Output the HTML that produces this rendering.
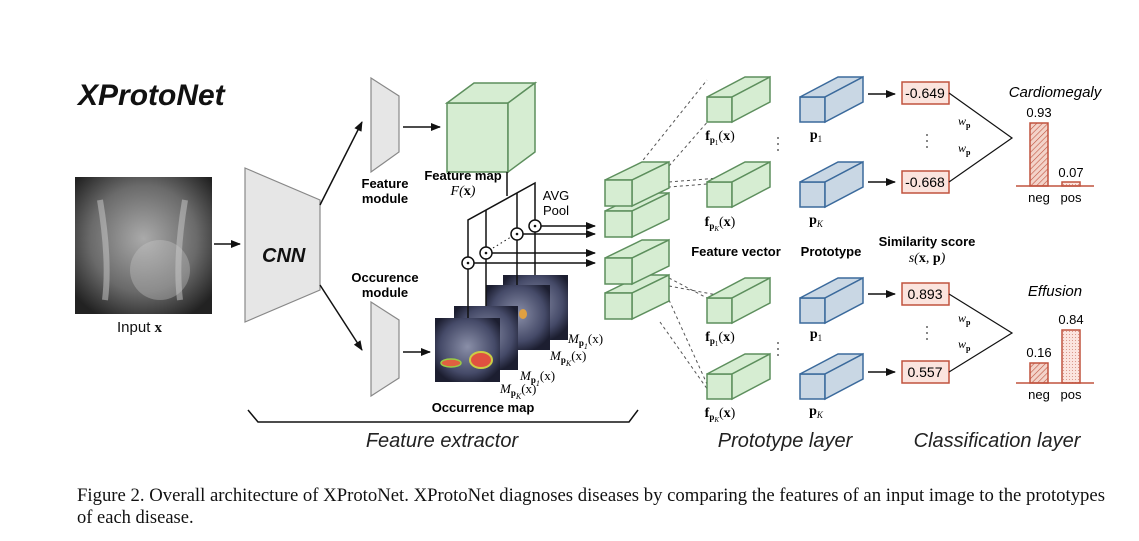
<!DOCTYPE html>
<html><head><meta charset="utf-8"><style>
body{margin:0;background:#fff;}
svg{display:block;font-family:"Liberation Sans",sans-serif;}
.s{font-family:"Liberation Serif",serif;}
</style></head><body>
<svg width="1139" height="541" viewBox="0 0 1139 541">
<defs>
<marker id="a" markerWidth="10" markerHeight="8" refX="9" refY="4" orient="auto" markerUnits="userSpaceOnUse"><path d="M0,0 L10,4 L0,8 z" fill="#111"/></marker>
<pattern id="hat" width="4" height="4" patternUnits="userSpaceOnUse" patternTransform="rotate(45)"><rect width="4" height="4" fill="#f3d3c9"/><line x1="0" y1="0" x2="0" y2="4" stroke="#c0533e" stroke-width="1.2"/></pattern>
<pattern id="dot" width="3" height="3" patternUnits="userSpaceOnUse"><rect width="3" height="3" fill="#fbe4de"/><circle cx="1.5" cy="1.5" r="0.5" fill="#d08070"/></pattern>
<radialGradient id="xr" cx="50%" cy="45%" r="65%"><stop offset="0" stop-color="#aaa"/><stop offset="0.6" stop-color="#6a6a6a"/><stop offset="1" stop-color="#222"/></radialGradient>
<radialGradient id="om" cx="50%" cy="45%" r="60%"><stop offset="0" stop-color="#8a8fa8"/><stop offset="0.7" stop-color="#454a68"/><stop offset="1" stop-color="#1c1e30"/></radialGradient>
<g id="gc"><path d="M0,0 h25 v25 h-25 z" fill="#d6edd2" stroke="#5d8f5d" stroke-width="1.5"/><path d="M0,0 l38,-20 h25 l-38,20 z" fill="#d6edd2" stroke="#5d8f5d" stroke-width="1.5"/><path d="M25,0 l38,-20 v25 l-38,20 z" fill="#d6edd2" stroke="#5d8f5d" stroke-width="1.5"/></g>
<g id="bc"><path d="M0,0 h25 v25 h-25 z" fill="#c9d7e4" stroke="#3b6a9c" stroke-width="1.5"/><path d="M0,0 l38,-20 h25 l-38,20 z" fill="#c9d7e4" stroke="#3b6a9c" stroke-width="1.5"/><path d="M25,0 l38,-20 v25 l-38,20 z" fill="#c9d7e4" stroke="#3b6a9c" stroke-width="1.5"/></g>
<g id="smc"><path d="M0,0 h27 l37,-18 h-27 z" fill="#d6edd2" stroke="#5d8f5d" stroke-width="1.5"/><path d="M27,0 l37,-18 v26 l-37,18 z" fill="#d6edd2" stroke="#5d8f5d" stroke-width="1.5"/><path d="M0,0 h27 v26 h-27 z" fill="#d6edd2" stroke="#5d8f5d" stroke-width="1.5"/></g>
</defs>

<text x="78" y="105" font-size="30" font-weight="bold" font-style="italic" fill="#111">XProtoNet</text>

<rect x="75" y="177" width="137" height="137" fill="url(#xr)"/>
<path d="M100,200 q10,60 5,100 M185,200 q-10,60 -5,100" stroke="#ccc" stroke-width="6" fill="none" opacity="0.5"/>
<ellipse cx="160" cy="270" rx="30" ry="30" fill="#ccc" opacity="0.35"/>
<text x="117" y="332" font-size="15" fill="#111">Input <tspan class="s" font-weight="bold">x</tspan></text>
<line x1="214" y1="244" x2="240" y2="244" stroke="#111" stroke-width="1.5" marker-end="url(#a)"/>

<path d="M245,168 L320,200 L320,290 L245,322 z" fill="#e6e6e6" stroke="#888" stroke-width="1.2"/>
<text x="262" y="262" font-size="20" font-weight="bold" font-style="italic" fill="#111">CNN</text>
<line x1="320" y1="205" x2="362" y2="122" stroke="#111" stroke-width="1.5" marker-end="url(#a)"/>
<line x1="320" y1="285" x2="362" y2="350" stroke="#111" stroke-width="1.5" marker-end="url(#a)"/>

<path d="M371,78 L399,96 L399,152 L371,172 z" fill="#e6e6e6" stroke="#888" stroke-width="1.2"/>
<text x="385" y="188" font-size="13" font-weight="bold" text-anchor="middle">Feature</text>
<text x="385" y="203" font-size="13" font-weight="bold" text-anchor="middle">module</text>
<path d="M371,302 L399,320 L399,378 L371,396 z" fill="#e6e6e6" stroke="#888" stroke-width="1.2"/>
<text x="385" y="282" font-size="13" font-weight="bold" text-anchor="middle">Occurence</text>
<text x="385" y="297" font-size="13" font-weight="bold" text-anchor="middle">module</text>
<line x1="403" y1="127" x2="440" y2="127" stroke="#111" stroke-width="1.5" marker-end="url(#a)"/>
<line x1="403" y1="352" x2="430" y2="352" stroke="#111" stroke-width="1.5" marker-end="url(#a)"/>

<path d="M447,103 h61 v69 h-61 z" fill="#d6edd2" stroke="#5d8f5d" stroke-width="1.5"/>
<path d="M447,103 l27,-20 h61 l-27,20 z" fill="#d6edd2" stroke="#5d8f5d" stroke-width="1.5"/>
<path d="M508,103 l27,-20 v69 l-27,20 z" fill="#d6edd2" stroke="#5d8f5d" stroke-width="1.5"/>
<text x="463" y="180" font-size="13" font-weight="bold" text-anchor="middle">Feature map</text>
<text x="463" y="195" font-size="14" class="s" font-style="italic" text-anchor="middle">F(<tspan font-weight="bold" font-style="normal">x</tspan>)</text>

<g stroke="none">
<rect x="503" y="275" width="65" height="65" fill="url(#om)"/>
<rect x="486" y="285" width="64" height="65" fill="url(#om)"/>
<rect x="454" y="306" width="64" height="64" fill="url(#om)"/>
<rect x="435" y="318" width="65" height="64" fill="url(#om)"/>
<ellipse cx="523" cy="314" rx="4" ry="5" fill="#e0a040"/>
<ellipse cx="451" cy="363" rx="10" ry="4" fill="#e06040" stroke="#9c4" stroke-width="1.5"/>
<ellipse cx="481" cy="360" rx="11" ry="8" fill="#e05040" stroke="#cc4" stroke-width="2"/>
</g>
<g class="s" font-size="13" font-style="italic">
<text x="568" y="343">M<tspan font-size="9" dy="3" font-weight="bold" font-style="normal">p</tspan><tspan font-size="8" dy="3">1</tspan><tspan dy="-6" font-style="normal">(x)</tspan></text>
<text x="550" y="360">M<tspan font-size="9" dy="3" font-weight="bold" font-style="normal">p</tspan><tspan font-size="8" dy="3">K</tspan><tspan dy="-6" font-style="normal">(x)</tspan></text>
<text x="520" y="380">M<tspan font-size="9" dy="3" font-weight="bold" font-style="normal">p</tspan><tspan font-size="8" dy="3">1</tspan><tspan dy="-6" font-style="normal">(x)</tspan></text>
<text x="500" y="393">M<tspan font-size="9" dy="3" font-weight="bold" font-style="normal">p</tspan><tspan font-size="8" dy="3">K</tspan><tspan dy="-6" font-style="normal">(x)</tspan></text>
</g>
<text x="483" y="412" font-size="13" font-weight="bold" text-anchor="middle">Occurrence map</text>

<g stroke="#111" stroke-width="1.5" fill="none">
<line x1="507" y1="172" x2="507" y2="196"/>
<path d="M468,318 V220 L535,183 V275"/>
<line x1="486" y1="210" x2="486" y2="306"/>
<line x1="517" y1="193" x2="517" y2="285"/>
<line x1="474" y1="263" x2="595" y2="263" marker-end="url(#a)"/>
<line x1="492" y1="253" x2="595" y2="253" marker-end="url(#a)"/>
<line x1="523" y1="234" x2="595" y2="234" marker-end="url(#a)"/>
<line x1="541" y1="226" x2="595" y2="226" marker-end="url(#a)"/>
<line x1="493" y1="248" x2="511" y2="237" stroke-dasharray="1.5,3" stroke-width="1"/>
</g>
<g fill="#fff" stroke="#111" stroke-width="1.5">
<circle cx="468" cy="263" r="6"/><circle cx="486" cy="253" r="6"/><circle cx="517" cy="234" r="6"/><circle cx="535" cy="226" r="6"/>
</g>
<g fill="#111"><circle cx="468" cy="263" r="1.3"/><circle cx="486" cy="253" r="1.3"/><circle cx="517" cy="234" r="1.3"/><circle cx="535" cy="226" r="1.3"/></g>
<text x="556" y="200" font-size="13" text-anchor="middle">AVG</text>
<text x="556" y="215" font-size="13" text-anchor="middle">Pool</text>

<g stroke="#555" stroke-width="1" stroke-dasharray="3,3">
<line x1="632" y1="174" x2="707" y2="80"/><line x1="669" y1="166" x2="744" y2="80"/>
<line x1="632" y1="190" x2="707" y2="184"/><line x1="669" y1="182" x2="744" y2="176"/>
<line x1="669" y1="278" x2="707" y2="298"/><line x1="669" y1="286" x2="744" y2="300"/>
<line x1="669" y1="300" x2="707" y2="384"/><line x1="660" y1="322" x2="715" y2="400"/>
</g>
<line x1="643" y1="240" x2="643" y2="256" stroke="#333" stroke-dasharray="1.5,2.5"/>
<use href="#smc" x="605" y="293"/>
<use href="#smc" x="605" y="258"/>
<use href="#smc" x="605" y="211"/>
<use href="#smc" x="605" y="180"/>

<use href="#gc" x="707" y="97"/>
<use href="#gc" x="707" y="182"/>
<use href="#gc" x="707" y="298"/>
<use href="#gc" x="707" y="374"/>
<use href="#bc" x="800" y="97"/>
<use href="#bc" x="800" y="182"/>
<use href="#bc" x="800" y="298"/>
<use href="#bc" x="800" y="374"/>

<g class="s" font-size="14">
<text x="720" y="140" text-anchor="middle"><tspan font-weight="bold">f</tspan><tspan font-size="9" dy="3" font-weight="bold">p</tspan><tspan font-size="7" dy="2">1</tspan><tspan dy="-5">(</tspan><tspan font-weight="bold">x</tspan>)</text>
<text x="720" y="226" text-anchor="middle"><tspan font-weight="bold">f</tspan><tspan font-size="9" dy="3" font-weight="bold">p</tspan><tspan font-size="7" dy="2" font-style="italic">K</tspan><tspan dy="-5">(</tspan><tspan font-weight="bold">x</tspan>)</text>
<text x="720" y="341" text-anchor="middle"><tspan font-weight="bold">f</tspan><tspan font-size="9" dy="3" font-weight="bold">p</tspan><tspan font-size="7" dy="2">1</tspan><tspan dy="-5">(</tspan><tspan font-weight="bold">x</tspan>)</text>
<text x="720" y="417" text-anchor="middle"><tspan font-weight="bold">f</tspan><tspan font-size="9" dy="3" font-weight="bold">p</tspan><tspan font-size="7" dy="2" font-style="italic">K</tspan><tspan dy="-5">(</tspan><tspan font-weight="bold">x</tspan>)</text>
<text x="816" y="139" text-anchor="middle"><tspan font-weight="bold">p</tspan><tspan font-size="9" dy="3">1</tspan></text>
<text x="816" y="224" text-anchor="middle"><tspan font-weight="bold">p</tspan><tspan font-size="9" dy="3" font-style="italic">K</tspan></text>
<text x="816" y="338" text-anchor="middle"><tspan font-weight="bold">p</tspan><tspan font-size="9" dy="3">1</tspan></text>
<text x="816" y="415" text-anchor="middle"><tspan font-weight="bold">p</tspan><tspan font-size="9" dy="3" font-style="italic">K</tspan></text>
</g>
<g fill="#333"><circle cx="778" cy="138" r="0.9"/><circle cx="778" cy="144" r="0.9"/><circle cx="778" cy="150" r="0.9"/>
<circle cx="778" cy="343" r="0.9"/><circle cx="778" cy="349" r="0.9"/><circle cx="778" cy="355" r="0.9"/>
<circle cx="927" cy="135" r="0.9"/><circle cx="927" cy="141" r="0.9"/><circle cx="927" cy="147" r="0.9"/>
<circle cx="927" cy="327" r="0.9"/><circle cx="927" cy="333" r="0.9"/><circle cx="927" cy="339" r="0.9"/></g>
<text x="736" y="256" font-size="13" font-weight="bold" text-anchor="middle">Feature vector</text>
<text x="831" y="256" font-size="13" font-weight="bold" text-anchor="middle">Prototype</text>
<text x="927" y="246" font-size="13" font-weight="bold" text-anchor="middle">Similarity score</text>
<text x="927" y="262" font-size="14" class="s" font-style="italic" text-anchor="middle">s(<tspan font-weight="bold" font-style="normal">x</tspan>, <tspan font-weight="bold" font-style="normal">p</tspan>)</text>

<g stroke="#111" stroke-width="1.5">
<line x1="868" y1="94" x2="895" y2="94" marker-end="url(#a)"/>
<line x1="868" y1="182" x2="895" y2="182" marker-end="url(#a)"/>
<line x1="868" y1="294" x2="895" y2="294" marker-end="url(#a)"/>
<line x1="868" y1="372" x2="895" y2="372" marker-end="url(#a)"/>
</g>
<g fill="#fbe4de" stroke="#c0533e" stroke-width="1.5">
<rect x="902" y="82" width="47" height="22"/><rect x="902" y="171" width="47" height="22"/>
<rect x="902" y="283" width="47" height="22"/><rect x="902" y="361" width="47" height="22"/>
</g>
<g font-size="14" text-anchor="middle"><text x="925" y="98">-0.649</text><text x="925" y="187">-0.668</text><text x="925" y="299">0.893</text><text x="925" y="377">0.557</text></g>
<g stroke="#111" stroke-width="1.2" fill="none"><path d="M949,93 L1012,138 L949,182"/><path d="M949,294 L1012,333 L949,372"/></g>
<g class="s" font-size="12" font-style="italic"><text x="958" y="125">w<tspan font-size="8" font-weight="bold" font-style="normal" dy="3">p</tspan></text><text x="958" y="152">w<tspan font-size="8" font-weight="bold" font-style="normal" dy="3">p</tspan></text>
<text x="958" y="322">w<tspan font-size="8" font-weight="bold" font-style="normal" dy="3">p</tspan></text><text x="958" y="348">w<tspan font-size="8" font-weight="bold" font-style="normal" dy="3">p</tspan></text></g>

<text x="1055" y="97" font-size="15" font-style="italic" text-anchor="middle">Cardiomegaly</text>
<rect x="1030" y="123" width="18" height="63" fill="url(#hat)" stroke="#c0533e" stroke-width="1.5"/>
<rect x="1062" y="182" width="18" height="4" fill="url(#dot)" stroke="#c0533e" stroke-width="1.5"/>
<line x1="1016" y1="186" x2="1094" y2="186" stroke="#c0533e" stroke-width="1.5"/>
<text x="1039" y="117" font-size="13" text-anchor="middle">0.93</text><text x="1071" y="177" font-size="13" text-anchor="middle">0.07</text>
<text x="1039" y="202" font-size="13" text-anchor="middle">neg</text><text x="1071" y="202" font-size="13" text-anchor="middle">pos</text>

<text x="1055" y="296" font-size="15" font-style="italic" text-anchor="middle">Effusion</text>
<rect x="1030" y="363" width="18" height="20" fill="url(#hat)" stroke="#c0533e" stroke-width="1.5"/>
<rect x="1062" y="330" width="18" height="53" fill="url(#dot)" stroke="#c0533e" stroke-width="1.5"/>
<line x1="1016" y1="383" x2="1094" y2="383" stroke="#c0533e" stroke-width="1.5"/>
<text x="1039" y="357" font-size="13" text-anchor="middle">0.16</text><text x="1071" y="324" font-size="13" text-anchor="middle">0.84</text>
<text x="1039" y="399" font-size="13" text-anchor="middle">neg</text><text x="1071" y="399" font-size="13" text-anchor="middle">pos</text>

<path d="M248,410 L258,422 H629 L638,410" stroke="#111" stroke-width="1.5" fill="none"/>
<g font-size="20" font-style="italic" fill="#222" text-anchor="middle">
<text x="442" y="447">Feature extractor</text><text x="785" y="447">Prototype layer</text><text x="997" y="447">Classification layer</text></g>
<g class="s" font-size="18.5" fill="#111"><text x="77" y="501" textLength="1028" lengthAdjust="spacingAndGlyphs">Figure 2. Overall architecture of XProtoNet. XProtoNet diagnoses diseases by comparing the features of an input image to the prototypes</text><text x="77" y="523">of each disease.</text></g>
</svg>
</body></html>
